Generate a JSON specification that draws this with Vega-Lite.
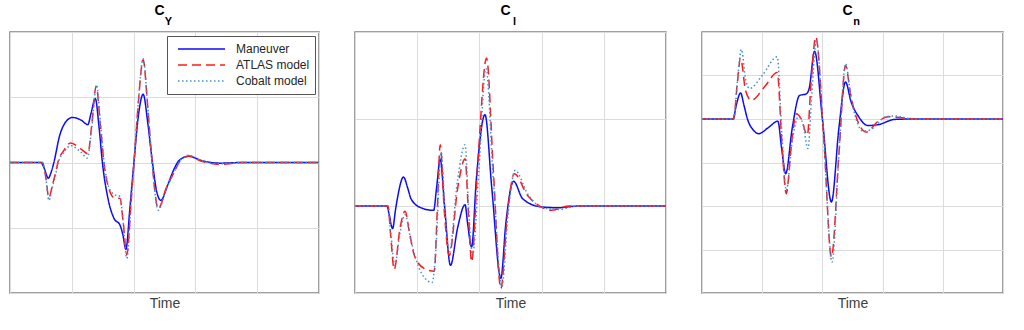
{
  "$schema": "https://vega.github.io/schema/vega-lite/v6.json",
  "padding": {"left": 9, "top": 3, "right": 0, "bottom": 0},
  "spacing": 36,
  "bounds": "flush",
  "config": {
    "font": "Liberation Sans",
    "view": {"stroke": "#808080", "strokeWidth": 1.5},
    "title": {"font": "Liberation Sans", "fontSize": 14, "fontWeight": "bold", "color": "#000000", "subtitleFont": "Liberation Sans", "subtitleFontSize": 11, "subtitleFontWeight": "bold", "subtitleColor": "#000000", "subtitlePadding": -2, "offset": 5, "anchor": "middle"},
    "axis": {"gridColor": "#dcdcdc", "gridWidth": 1, "labels": false, "domain": false, "ticks": false}
  },
  "data": {"values": [
    {"p":"CY","s":"Maneuver","x":0,"y":0},{"p":"CY","s":"Maneuver","x":1.0,"y":0},{"p":"CY","s":"Maneuver","x":1.1,"y":-0.08},{"p":"CY","s":"Maneuver","x":1.24,"y":-0.24},{"p":"CY","s":"Maneuver","x":1.33,"y":-0.15},{"p":"CY","s":"Maneuver","x":1.42,"y":0},{"p":"CY","s":"Maneuver","x":1.6,"y":0.4},{"p":"CY","s":"Maneuver","x":1.8,"y":0.62},{"p":"CY","s":"Maneuver","x":2.02,"y":0.69},{"p":"CY","s":"Maneuver","x":2.3,"y":0.65},{"p":"CY","s":"Maneuver","x":2.52,"y":0.58},{"p":"CY","s":"Maneuver","x":2.62,"y":0.75},{"p":"CY","s":"Maneuver","x":2.76,"y":0.98},{"p":"CY","s":"Maneuver","x":2.88,"y":0.55},{"p":"CY","s":"Maneuver","x":2.99,"y":0},{"p":"CY","s":"Maneuver","x":3.17,"y":-0.55},{"p":"CY","s":"Maneuver","x":3.37,"y":-0.86},{"p":"CY","s":"Maneuver","x":3.56,"y":-0.96},{"p":"CY","s":"Maneuver","x":3.65,"y":-1.1},{"p":"CY","s":"Maneuver","x":3.75,"y":-1.33},{"p":"CY","s":"Maneuver","x":3.88,"y":-0.7},{"p":"CY","s":"Maneuver","x":4.01,"y":0},{"p":"CY","s":"Maneuver","x":4.15,"y":0.7},{"p":"CY","s":"Maneuver","x":4.31,"y":1.045},{"p":"CY","s":"Maneuver","x":4.46,"y":0.6},{"p":"CY","s":"Maneuver","x":4.61,"y":0},{"p":"CY","s":"Maneuver","x":4.75,"y":-0.45},{"p":"CY","s":"Maneuver","x":4.88,"y":-0.58},{"p":"CY","s":"Maneuver","x":5.1,"y":-0.35},{"p":"CY","s":"Maneuver","x":5.31,"y":-0.1},{"p":"CY","s":"Maneuver","x":5.47,"y":0.03},{"p":"CY","s":"Maneuver","x":5.79,"y":0.095},{"p":"CY","s":"Maneuver","x":6.2,"y":0.03},{"p":"CY","s":"Maneuver","x":6.82,"y":-0.01},{"p":"CY","s":"Maneuver","x":7.5,"y":0},{"p":"CY","s":"Maneuver","x":10,"y":0},
    {"p":"CY","s":"ATLAS model","x":0,"y":0},{"p":"CY","s":"ATLAS model","x":1.05,"y":0},{"p":"CY","s":"ATLAS model","x":1.15,"y":-0.2},{"p":"CY","s":"ATLAS model","x":1.26,"y":-0.54},{"p":"CY","s":"ATLAS model","x":1.37,"y":-0.35},{"p":"CY","s":"ATLAS model","x":1.48,"y":-0.15},{"p":"CY","s":"ATLAS model","x":1.55,"y":0},{"p":"CY","s":"ATLAS model","x":1.75,"y":0.19},{"p":"CY","s":"ATLAS model","x":1.96,"y":0.3},{"p":"CY","s":"ATLAS model","x":2.29,"y":0.21},{"p":"CY","s":"ATLAS model","x":2.52,"y":0.135},{"p":"CY","s":"ATLAS model","x":2.65,"y":0.6},{"p":"CY","s":"ATLAS model","x":2.79,"y":1.17},{"p":"CY","s":"ATLAS model","x":2.92,"y":0.6},{"p":"CY","s":"ATLAS model","x":3.04,"y":0},{"p":"CY","s":"ATLAS model","x":3.2,"y":-0.4},{"p":"CY","s":"ATLAS model","x":3.37,"y":-0.54},{"p":"CY","s":"ATLAS model","x":3.56,"y":-0.55},{"p":"CY","s":"ATLAS model","x":3.66,"y":-0.9},{"p":"CY","s":"ATLAS model","x":3.78,"y":-1.41},{"p":"CY","s":"ATLAS model","x":3.92,"y":-0.6},{"p":"CY","s":"ATLAS model","x":4.03,"y":0.1},{"p":"CY","s":"ATLAS model","x":4.15,"y":0.9},{"p":"CY","s":"ATLAS model","x":4.31,"y":1.576},{"p":"CY","s":"ATLAS model","x":4.45,"y":0.9},{"p":"CY","s":"ATLAS model","x":4.58,"y":0.1},{"p":"CY","s":"ATLAS model","x":4.8,"y":-0.707},{"p":"CY","s":"ATLAS model","x":5.05,"y":-0.4},{"p":"CY","s":"ATLAS model","x":5.31,"y":-0.15},{"p":"CY","s":"ATLAS model","x":5.5,"y":0.02},{"p":"CY","s":"ATLAS model","x":5.79,"y":0.1},{"p":"CY","s":"ATLAS model","x":6.2,"y":0.02},{"p":"CY","s":"ATLAS model","x":6.82,"y":-0.03},{"p":"CY","s":"ATLAS model","x":7.5,"y":0},{"p":"CY","s":"ATLAS model","x":10,"y":0},
    {"p":"CY","s":"Cobalt model","x":0,"y":0},{"p":"CY","s":"Cobalt model","x":1.05,"y":0},{"p":"CY","s":"Cobalt model","x":1.15,"y":-0.2},{"p":"CY","s":"Cobalt model","x":1.26,"y":-0.58},{"p":"CY","s":"Cobalt model","x":1.37,"y":-0.38},{"p":"CY","s":"Cobalt model","x":1.48,"y":-0.18},{"p":"CY","s":"Cobalt model","x":1.56,"y":0},{"p":"CY","s":"Cobalt model","x":1.75,"y":0.16},{"p":"CY","s":"Cobalt model","x":1.96,"y":0.26},{"p":"CY","s":"Cobalt model","x":2.29,"y":0.16},{"p":"CY","s":"Cobalt model","x":2.5,"y":0.07},{"p":"CY","s":"Cobalt model","x":2.65,"y":0.55},{"p":"CY","s":"Cobalt model","x":2.8,"y":1.19},{"p":"CY","s":"Cobalt model","x":2.93,"y":0.6},{"p":"CY","s":"Cobalt model","x":3.05,"y":0},{"p":"CY","s":"Cobalt model","x":3.2,"y":-0.38},{"p":"CY","s":"Cobalt model","x":3.37,"y":-0.49},{"p":"CY","s":"Cobalt model","x":3.56,"y":-0.52},{"p":"CY","s":"Cobalt model","x":3.66,"y":-0.9},{"p":"CY","s":"Cobalt model","x":3.78,"y":-1.47},{"p":"CY","s":"Cobalt model","x":3.92,"y":-0.6},{"p":"CY","s":"Cobalt model","x":4.03,"y":0.1},{"p":"CY","s":"Cobalt model","x":4.15,"y":0.9},{"p":"CY","s":"Cobalt model","x":4.31,"y":1.59},{"p":"CY","s":"Cobalt model","x":4.45,"y":0.9},{"p":"CY","s":"Cobalt model","x":4.58,"y":0.1},{"p":"CY","s":"Cobalt model","x":4.8,"y":-0.73},{"p":"CY","s":"Cobalt model","x":5.05,"y":-0.42},{"p":"CY","s":"Cobalt model","x":5.31,"y":-0.15},{"p":"CY","s":"Cobalt model","x":5.5,"y":0.03},{"p":"CY","s":"Cobalt model","x":5.79,"y":0.11},{"p":"CY","s":"Cobalt model","x":6.2,"y":0.03},{"p":"CY","s":"Cobalt model","x":6.82,"y":-0.02},{"p":"CY","s":"Cobalt model","x":7.5,"y":0},{"p":"CY","s":"Cobalt model","x":10,"y":0},
    {"p":"Cl","s":"Maneuver","x":0,"y":0},{"p":"Cl","s":"Maneuver","x":1.03,"y":0},{"p":"Cl","s":"Maneuver","x":1.1,"y":-0.1},{"p":"Cl","s":"Maneuver","x":1.21,"y":-0.26},{"p":"Cl","s":"Maneuver","x":1.3,"y":-0.05},{"p":"Cl","s":"Maneuver","x":1.37,"y":0.1},{"p":"Cl","s":"Maneuver","x":1.56,"y":0.333},{"p":"Cl","s":"Maneuver","x":1.7,"y":0.2},{"p":"Cl","s":"Maneuver","x":1.8,"y":0.084},{"p":"Cl","s":"Maneuver","x":2.12,"y":-0.02},{"p":"Cl","s":"Maneuver","x":2.53,"y":-0.05},{"p":"Cl","s":"Maneuver","x":2.62,"y":0.2},{"p":"Cl","s":"Maneuver","x":2.74,"y":0.536},{"p":"Cl","s":"Maneuver","x":2.88,"y":0},{"p":"Cl","s":"Maneuver","x":3.07,"y":-0.682},{"p":"Cl","s":"Maneuver","x":3.3,"y":-0.25},{"p":"Cl","s":"Maneuver","x":3.54,"y":0.015},{"p":"Cl","s":"Maneuver","x":3.62,"y":-0.2},{"p":"Cl","s":"Maneuver","x":3.75,"y":-0.47},{"p":"Cl","s":"Maneuver","x":3.9,"y":0.3},{"p":"Cl","s":"Maneuver","x":4.18,"y":1.05},{"p":"Cl","s":"Maneuver","x":4.4,"y":0.2},{"p":"Cl","s":"Maneuver","x":4.69,"y":-0.83},{"p":"Cl","s":"Maneuver","x":4.85,"y":-0.2},{"p":"Cl","s":"Maneuver","x":5.1,"y":0.284},{"p":"Cl","s":"Maneuver","x":5.39,"y":0.084},{"p":"Cl","s":"Maneuver","x":5.98,"y":-0.01},{"p":"Cl","s":"Maneuver","x":6.52,"y":-0.02},{"p":"Cl","s":"Maneuver","x":7.2,"y":0},{"p":"Cl","s":"Maneuver","x":10,"y":0},
    {"p":"Cl","s":"ATLAS model","x":0,"y":0},{"p":"Cl","s":"ATLAS model","x":1.06,"y":0},{"p":"Cl","s":"ATLAS model","x":1.15,"y":-0.35},{"p":"Cl","s":"ATLAS model","x":1.26,"y":-0.73},{"p":"Cl","s":"ATLAS model","x":1.45,"y":-0.25},{"p":"Cl","s":"ATLAS model","x":1.61,"y":-0.06},{"p":"Cl","s":"ATLAS model","x":1.75,"y":-0.3},{"p":"Cl","s":"ATLAS model","x":1.91,"y":-0.57},{"p":"Cl","s":"ATLAS model","x":2.23,"y":-0.72},{"p":"Cl","s":"ATLAS model","x":2.55,"y":-0.75},{"p":"Cl","s":"ATLAS model","x":2.64,"y":-0.1},{"p":"Cl","s":"ATLAS model","x":2.74,"y":0.705},{"p":"Cl","s":"ATLAS model","x":2.88,"y":-0.1},{"p":"Cl","s":"ATLAS model","x":3.03,"y":-0.57},{"p":"Cl","s":"ATLAS model","x":3.3,"y":0.2},{"p":"Cl","s":"ATLAS model","x":3.54,"y":0.544},{"p":"Cl","s":"ATLAS model","x":3.65,"y":-0.1},{"p":"Cl","s":"ATLAS model","x":3.75,"y":-0.64},{"p":"Cl","s":"ATLAS model","x":3.95,"y":0.5},{"p":"Cl","s":"ATLAS model","x":4.23,"y":1.7},{"p":"Cl","s":"ATLAS model","x":4.45,"y":0.4},{"p":"Cl","s":"ATLAS model","x":4.69,"y":-0.95},{"p":"Cl","s":"ATLAS model","x":4.9,"y":-0.1},{"p":"Cl","s":"ATLAS model","x":5.12,"y":0.37},{"p":"Cl","s":"ATLAS model","x":5.55,"y":0.12},{"p":"Cl","s":"ATLAS model","x":5.98,"y":-0.01},{"p":"Cl","s":"ATLAS model","x":6.3,"y":-0.05},{"p":"Cl","s":"ATLAS model","x":6.9,"y":0},{"p":"Cl","s":"ATLAS model","x":10,"y":0},
    {"p":"Cl","s":"Cobalt model","x":0,"y":0},{"p":"Cl","s":"Cobalt model","x":1.06,"y":0},{"p":"Cl","s":"Cobalt model","x":1.15,"y":-0.3},{"p":"Cl","s":"Cobalt model","x":1.28,"y":-0.68},{"p":"Cl","s":"Cobalt model","x":1.45,"y":-0.3},{"p":"Cl","s":"Cobalt model","x":1.61,"y":-0.1},{"p":"Cl","s":"Cobalt model","x":1.8,"y":-0.4},{"p":"Cl","s":"Cobalt model","x":2.12,"y":-0.76},{"p":"Cl","s":"Cobalt model","x":2.48,"y":-0.88},{"p":"Cl","s":"Cobalt model","x":2.6,"y":-0.5},{"p":"Cl","s":"Cobalt model","x":2.77,"y":0.62},{"p":"Cl","s":"Cobalt model","x":2.9,"y":-0.1},{"p":"Cl","s":"Cobalt model","x":3.03,"y":-0.53},{"p":"Cl","s":"Cobalt model","x":3.3,"y":0.3},{"p":"Cl","s":"Cobalt model","x":3.54,"y":0.705},{"p":"Cl","s":"Cobalt model","x":3.65,"y":0},{"p":"Cl","s":"Cobalt model","x":3.78,"y":-0.57},{"p":"Cl","s":"Cobalt model","x":3.98,"y":0.4},{"p":"Cl","s":"Cobalt model","x":4.21,"y":1.58},{"p":"Cl","s":"Cobalt model","x":4.45,"y":0.3},{"p":"Cl","s":"Cobalt model","x":4.72,"y":-0.93},{"p":"Cl","s":"Cobalt model","x":4.92,"y":-0.1},{"p":"Cl","s":"Cobalt model","x":5.15,"y":0.41},{"p":"Cl","s":"Cobalt model","x":5.55,"y":0.14},{"p":"Cl","s":"Cobalt model","x":5.98,"y":-0.01},{"p":"Cl","s":"Cobalt model","x":6.52,"y":-0.04},{"p":"Cl","s":"Cobalt model","x":7.2,"y":0},{"p":"Cl","s":"Cobalt model","x":10,"y":0},
    {"p":"Cn","s":"Maneuver","x":0,"y":0},{"p":"Cn","s":"Maneuver","x":1.03,"y":0},{"p":"Cn","s":"Maneuver","x":1.15,"y":0.35},{"p":"Cn","s":"Maneuver","x":1.28,"y":0.6},{"p":"Cn","s":"Maneuver","x":1.4,"y":0.3},{"p":"Cn","s":"Maneuver","x":1.51,"y":0},{"p":"Cn","s":"Maneuver","x":1.7,"y":-0.25},{"p":"Cn","s":"Maneuver","x":1.88,"y":-0.337},{"p":"Cn","s":"Maneuver","x":2.2,"y":-0.2},{"p":"Cn","s":"Maneuver","x":2.52,"y":-0.05},{"p":"Cn","s":"Maneuver","x":2.65,"y":-0.7},{"p":"Cn","s":"Maneuver","x":2.78,"y":-1.257},{"p":"Cn","s":"Maneuver","x":3.0,"y":-0.2},{"p":"Cn","s":"Maneuver","x":3.24,"y":0.54},{"p":"Cn","s":"Maneuver","x":3.47,"y":0.58},{"p":"Cn","s":"Maneuver","x":3.56,"y":0.7},{"p":"Cn","s":"Maneuver","x":3.74,"y":1.556},{"p":"Cn","s":"Maneuver","x":4.0,"y":0},{"p":"Cn","s":"Maneuver","x":4.3,"y":-1.908},{"p":"Cn","s":"Maneuver","x":4.55,"y":-0.2},{"p":"Cn","s":"Maneuver","x":4.77,"y":0.851},{"p":"Cn","s":"Maneuver","x":4.95,"y":0.4},{"p":"Cn","s":"Maneuver","x":5.18,"y":0.08},{"p":"Cn","s":"Maneuver","x":5.51,"y":-0.15},{"p":"Cn","s":"Maneuver","x":5.85,"y":-0.13},{"p":"Cn","s":"Maneuver","x":6.4,"y":-0.01},{"p":"Cn","s":"Maneuver","x":7.0,"y":0},{"p":"Cn","s":"Maneuver","x":10,"y":0},
    {"p":"Cn","s":"ATLAS model","x":0,"y":0},{"p":"Cn","s":"ATLAS model","x":1.05,"y":0},{"p":"Cn","s":"ATLAS model","x":1.17,"y":0.8},{"p":"Cn","s":"ATLAS model","x":1.28,"y":1.4},{"p":"Cn","s":"ATLAS model","x":1.45,"y":0.65},{"p":"Cn","s":"ATLAS model","x":1.64,"y":0.43},{"p":"Cn","s":"ATLAS model","x":2.08,"y":0.74},{"p":"Cn","s":"ATLAS model","x":2.5,"y":1.07},{"p":"Cn","s":"ATLAS model","x":2.65,"y":-0.5},{"p":"Cn","s":"ATLAS model","x":2.8,"y":-1.716},{"p":"Cn","s":"ATLAS model","x":2.97,"y":-0.6},{"p":"Cn","s":"ATLAS model","x":3.13,"y":0.12},{"p":"Cn","s":"ATLAS model","x":3.3,"y":0},{"p":"Cn","s":"ATLAS model","x":3.5,"y":-0.37},{"p":"Cn","s":"ATLAS model","x":3.62,"y":0.8},{"p":"Cn","s":"ATLAS model","x":3.78,"y":1.89},{"p":"Cn","s":"ATLAS model","x":4.05,"y":-0.5},{"p":"Cn","s":"ATLAS model","x":4.3,"y":-3.17},{"p":"Cn","s":"ATLAS model","x":4.55,"y":-0.8},{"p":"Cn","s":"ATLAS model","x":4.77,"y":1.23},{"p":"Cn","s":"ATLAS model","x":4.93,"y":0.6},{"p":"Cn","s":"ATLAS model","x":5.07,"y":0.16},{"p":"Cn","s":"ATLAS model","x":5.46,"y":-0.3},{"p":"Cn","s":"ATLAS model","x":5.85,"y":-0.05},{"p":"Cn","s":"ATLAS model","x":6.2,"y":0.05},{"p":"Cn","s":"ATLAS model","x":6.62,"y":0.03},{"p":"Cn","s":"ATLAS model","x":7.2,"y":0},{"p":"Cn","s":"ATLAS model","x":10,"y":0},
    {"p":"Cn","s":"Cobalt model","x":0,"y":0},{"p":"Cn","s":"Cobalt model","x":1.06,"y":0},{"p":"Cn","s":"Cobalt model","x":1.18,"y":0.9},{"p":"Cn","s":"Cobalt model","x":1.31,"y":1.6},{"p":"Cn","s":"Cobalt model","x":1.45,"y":0.9},{"p":"Cn","s":"Cobalt model","x":1.58,"y":0.7},{"p":"Cn","s":"Cobalt model","x":2.0,"y":1.0},{"p":"Cn","s":"Cobalt model","x":2.5,"y":1.43},{"p":"Cn","s":"Cobalt model","x":2.65,"y":-0.3},{"p":"Cn","s":"Cobalt model","x":2.8,"y":-1.64},{"p":"Cn","s":"Cobalt model","x":3.0,"y":-0.5},{"p":"Cn","s":"Cobalt model","x":3.2,"y":0.05},{"p":"Cn","s":"Cobalt model","x":3.35,"y":-0.1},{"p":"Cn","s":"Cobalt model","x":3.52,"y":-0.68},{"p":"Cn","s":"Cobalt model","x":3.65,"y":0.6},{"p":"Cn","s":"Cobalt model","x":3.8,"y":1.81},{"p":"Cn","s":"Cobalt model","x":4.05,"y":-0.5},{"p":"Cn","s":"Cobalt model","x":4.32,"y":-3.29},{"p":"Cn","s":"Cobalt model","x":4.55,"y":-0.8},{"p":"Cn","s":"Cobalt model","x":4.77,"y":1.27},{"p":"Cn","s":"Cobalt model","x":4.95,"y":0.5},{"p":"Cn","s":"Cobalt model","x":5.12,"y":0},{"p":"Cn","s":"Cobalt model","x":5.35,"y":-0.28},{"p":"Cn","s":"Cobalt model","x":5.6,"y":-0.25},{"p":"Cn","s":"Cobalt model","x":6.1,"y":0.05},{"p":"Cn","s":"Cobalt model","x":6.4,"y":0.07},{"p":"Cn","s":"Cobalt model","x":7.0,"y":0},{"p":"Cn","s":"Cobalt model","x":10,"y":0}
  ]},
  "resolve": {"scale": {"x": "independent", "y": "independent", "color": "independent", "strokeDash": "independent"}, "legend": {"color": "independent", "strokeDash": "independent"}},
  "hconcat": [
    {
      "width": 309, "height": 261,
      "title": {"text": "C\u2800", "subtitle": "\u2800Y"},
      "transform": [{"filter": "datum.p === 'CY'"}],
      "mark": {"type": "line", "interpolate": "monotone", "strokeWidth": 1.5, "clip": true},
      "encoding": {
        "x": {"field": "x", "type": "quantitative", "scale": {"domain": [0, 10], "nice": false, "zero": false}, "axis": {"values": [0, 2, 4, 6, 8, 10], "title": "Time", "titleFontSize": 14, "titleFontWeight": "normal", "titleColor": "#404040", "titlePadding": 3, "grid": true}},
        "y": {"field": "y", "type": "quantitative", "scale": {"domain": [-2, 2], "nice": false}, "axis": {"values": [-2, -1, 0, 1, 2], "title": null, "grid": true}},
        "color": {"field": "s", "type": "nominal", "scale": {"domain": ["Maneuver", "ATLAS model", "Cobalt model"], "range": ["#0a0aff", "#ff1a1a", "#3f8fd6"]},
          "legend": {"orient": "top-right", "offset": 4, "title": null, "fillColor": "#ffffff", "strokeColor": "#555555", "padding": 5, "symbolType": "stroke", "symbolSize": 2209, "symbolStrokeWidth": 1.5, "clipHeight": 16, "rowPadding": 0, "symbolOffset": 5, "labelOffset": 10, "labelFontSize": 12, "labelFont": "Liberation Sans", "labelColor": "#262626"}},
        "strokeDash": {"field": "s", "type": "nominal", "scale": {"domain": ["Maneuver", "ATLAS model", "Cobalt model"], "range": [[1, 0], [9, 5], [1.5, 2.5]]},
          "legend": {"orient": "top-right", "offset": 4, "title": null, "fillColor": "#ffffff", "strokeColor": "#555555", "padding": 5, "symbolType": "stroke", "symbolSize": 2209, "symbolStrokeWidth": 1.5, "clipHeight": 16, "rowPadding": 0, "symbolOffset": 5, "labelOffset": 10, "labelFontSize": 12, "labelFont": "Liberation Sans", "labelColor": "#262626"}}
      }
    },
    {
      "width": 311, "height": 261,
      "title": {"text": "C\u2800", "subtitle": "\u2800l"},
      "transform": [{"filter": "datum.p === 'Cl'"}],
      "mark": {"type": "line", "interpolate": "monotone", "strokeWidth": 1.5, "clip": true},
      "encoding": {
        "x": {"field": "x", "type": "quantitative", "scale": {"domain": [0, 10], "nice": false, "zero": false}, "axis": {"values": [0, 2, 4, 6, 8, 10], "title": "Time", "titleFontSize": 14, "titleFontWeight": "normal", "titleColor": "#404040", "titlePadding": 3, "grid": true}},
        "y": {"field": "y", "type": "quantitative", "scale": {"domain": [-1, 2], "nice": false}, "axis": {"values": [-1, 0, 1, 2], "title": null, "grid": true}},
        "color": {"field": "s", "type": "nominal", "scale": {"domain": ["Maneuver", "ATLAS model", "Cobalt model"], "range": ["#0a0aff", "#ff1a1a", "#3f8fd6"]}, "legend": null},
        "strokeDash": {"field": "s", "type": "nominal", "scale": {"domain": ["Maneuver", "ATLAS model", "Cobalt model"], "range": [[1, 0], [9, 5], [1.5, 2.5]]}, "legend": null}
      }
    },
    {
      "width": 301, "height": 261,
      "title": {"text": "C\u2800", "subtitle": "\u2800n"},
      "transform": [{"filter": "datum.p === 'Cn'"}],
      "mark": {"type": "line", "interpolate": "monotone", "strokeWidth": 1.5, "clip": true},
      "encoding": {
        "x": {"field": "x", "type": "quantitative", "scale": {"domain": [0, 10], "nice": false, "zero": false}, "axis": {"values": [0, 2, 4, 6, 8, 10], "title": "Time", "titleFontSize": 14, "titleFontWeight": "normal", "titleColor": "#404040", "titlePadding": 3, "grid": true}},
        "y": {"field": "y", "type": "quantitative", "scale": {"domain": [-4, 2], "nice": false}, "axis": {"values": [-4, -3, -2, -1, 0, 1, 2], "title": null, "grid": true}},
        "color": {"field": "s", "type": "nominal", "scale": {"domain": ["Maneuver", "ATLAS model", "Cobalt model"], "range": ["#0a0aff", "#ff1a1a", "#3f8fd6"]}, "legend": null},
        "strokeDash": {"field": "s", "type": "nominal", "scale": {"domain": ["Maneuver", "ATLAS model", "Cobalt model"], "range": [[1, 0], [9, 5], [1.5, 2.5]]}, "legend": null}
      }
    }
  ]
}
